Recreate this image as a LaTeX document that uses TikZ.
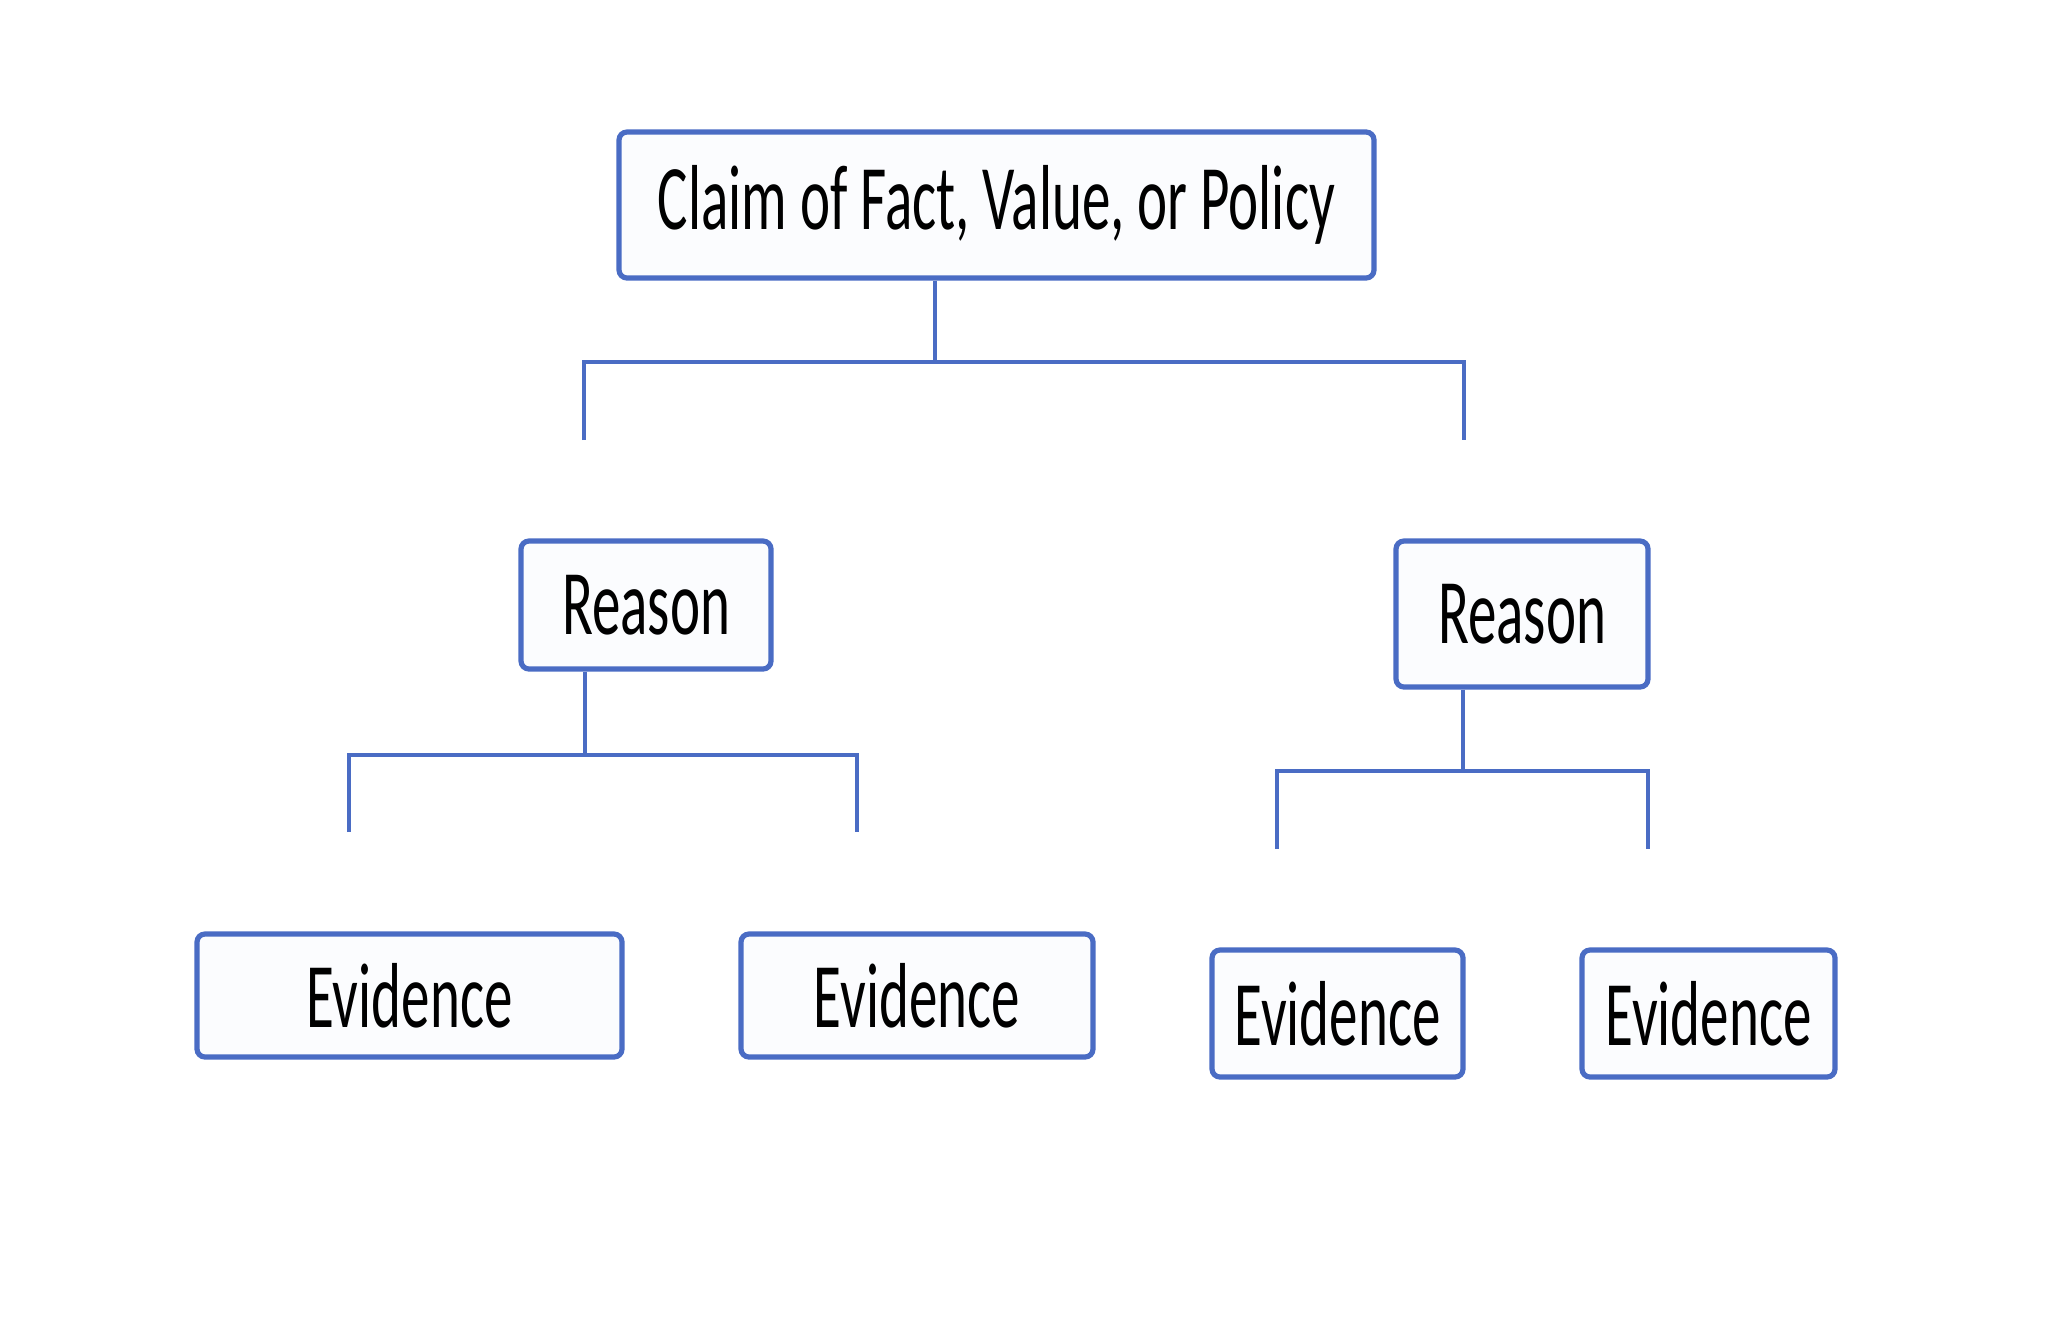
\documentclass[tikz,border=0pt]{standalone}
\usepackage{fontspec}
\setmainfont{Carlito}
\definecolor{linec}{HTML}{4A6CC4}
\definecolor{boxfill}{HTML}{FBFCFE}
\begin{document}
\begin{tikzpicture}[x=0.5pt,y=-0.5pt,
  box/.style={draw=linec, line width=2.6pt, fill=boxfill, rounded corners=4pt, inner sep=0pt},
  conn/.style={draw=linec, line width=2.1pt}]
\useasboundingbox (0,0) rectangle (2048,1339);
\newcommand{\tall}[1]{\scalebox{1}[1.62]{\fontsize{28.5}{30}\selectfont #1}}
\node[box, minimum width=377.5pt, minimum height=73pt] (claim) at (996.5,205) {\tall{Claim of Fact, Value, or Policy}};
\node[box, minimum width=125pt, minimum height=64pt] (r1) at (646,605) {\tall{Reason}};
\node[box, minimum width=126pt, minimum height=73pt] (r2) at (1522,614) {\tall{Reason}};
\node[box, minimum width=212.5pt, minimum height=61.5pt] (e1) at (409.5,995.5) {\tall{Evidence}};
\node[box, minimum width=176pt, minimum height=61.5pt] (e2) at (917,995.5) {\tall{Evidence}};
\node[box, minimum width=125.5pt, minimum height=63.5pt] (e3) at (1337.5,1013.5) {\tall{Evidence}};
\node[box, minimum width=126.5pt, minimum height=63.5pt] (e4) at (1708.5,1013.5) {\tall{Evidence}};
% claim bracket
\coordinate (c0) at (935,362);
\coordinate (cl) at (584,362);
\coordinate (cr) at (1464,362);
\coordinate (cld) at (584,440);
\coordinate (crd) at (1464,440);
\draw[conn] (claim.south -| c0) -- (c0);
\draw[conn] (cld) -- (cl) -- (cr) -- (crd);
% left reason bracket
\coordinate (a0) at (585,755);
\coordinate (al) at (349,755);
\coordinate (ar) at (857,755);
\coordinate (ald) at (349,832);
\coordinate (ard) at (857,832);
\draw[conn] (r1.south -| a0) -- (a0);
\draw[conn] (ald) -- (al) -- (ar) -- (ard);
% right reason bracket
\coordinate (b0) at (1463,771);
\coordinate (bl) at (1277,771);
\coordinate (br) at (1648,771);
\coordinate (bld) at (1277,849);
\coordinate (brd) at (1648,849);
\draw[conn] (r2.south -| b0) -- (b0);
\draw[conn] (bld) -- (bl) -- (br) -- (brd);
\end{tikzpicture}
\end{document}
